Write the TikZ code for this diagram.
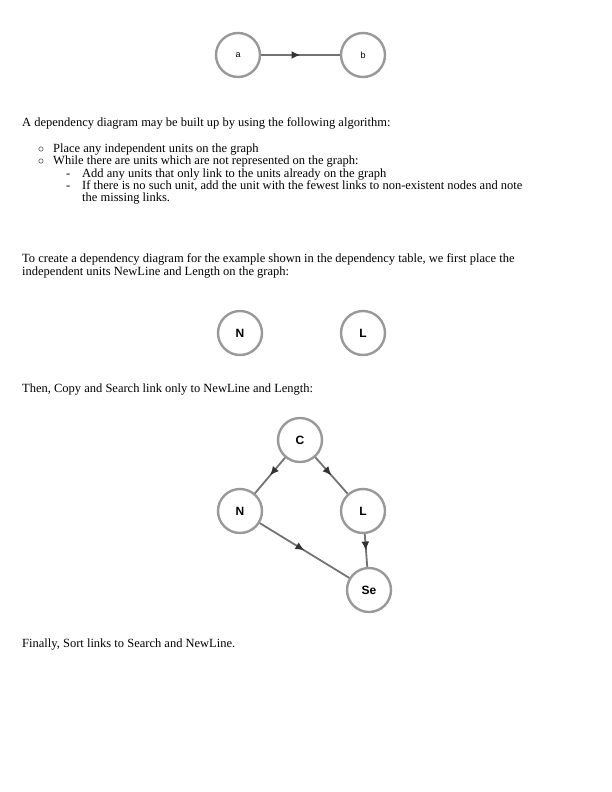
\documentclass[tikz,border=0pt]{standalone}
\usepackage{fontspec}
\setmainfont{Liberation Serif}
\setsansfont{Liberation Sans}
\usetikzlibrary{arrows.meta}
\usetikzlibrary{decorations.markings}

\begin{document}
\begin{tikzpicture}[x=1pt, y=-1pt,
    unit/.style={circle, draw=black!40, line width=2.4pt, minimum size=44pt, inner sep=0pt, font=\sffamily\bfseries\large},
    midarrow/.style={postaction={decorate}, decoration={markings, mark=at position 0.5 with {\arrow[black!80]{Latex[length=9pt,width=8pt]}}}},
    link/.style={draw=black!55, line width=1.8pt, midarrow},
    txt/.style={anchor=base west, inner sep=0pt, font=\fontsize{12.5}{13}\selectfont}]
    \useasboundingbox (0, 0) rectangle (612, 792); % page
    % first picture
    \node[unit, font=\sffamily\small] (a) at (238, 55) {a};
    \node[unit, font=\sffamily\small] (b) at (363, 55) {b};
    \draw[link] (a) -- (b);
    % algorithm
    \node[txt] (t1) at (22, 126) {A dependency diagram may be built up by using the following algorithm:};
    \node[txt] (b1) at (38, 152) {$\circ$};
    \node[txt] (t2) at (53, 152) {Place any independent units on the graph};
    \node[txt] (b2) at (38, 164) {$\circ$};
    \node[txt] (t3) at (53, 164) {While there are units which are not represented on the graph:};
    \node[txt] (b3) at (66, 177) {-};
    \node[txt] (t4) at (82, 177) {Add any units that only link to the units already on the graph};
    \node[txt] (b4) at (66, 189) {-};
    \node[txt] (t5) at (82, 189) {If there is no such unit, add the unit with the fewest links to non-existent nodes and note};
    \node[txt] (t6) at (82, 201) {the missing links.};
    \node[txt] (t7) at (22, 262) {To create a dependency diagram for the example shown in the dependency table, we first place the};
    \node[txt] (t8) at (22, 275) {independent units NewLine and Length on the graph:};
    % second picture
    \node[unit] (n1) at (240, 333) {N};
    \node[unit] (l1) at (363, 333) {L};
    \node[txt] (t9) at (22, 392) {Then, Copy and Search link only to NewLine and Length:};
    % third picture
    \node[unit] (c) at (300, 440) {C};
    \node[unit] (n) at (240, 511) {N};
    \node[unit] (l) at (363, 511) {L};
    \node[unit] (se) at (369, 590) {Se};
    \draw[link] (c) -- (n);
    \draw[link] (c) -- (l);
    \draw[link] (n) -- (se);
    \draw[link] (l) -- (se);
    \node[txt] (t10) at (22, 647) {Finally, Sort links to Search and NewLine.};
\end{tikzpicture}
\end{document}
